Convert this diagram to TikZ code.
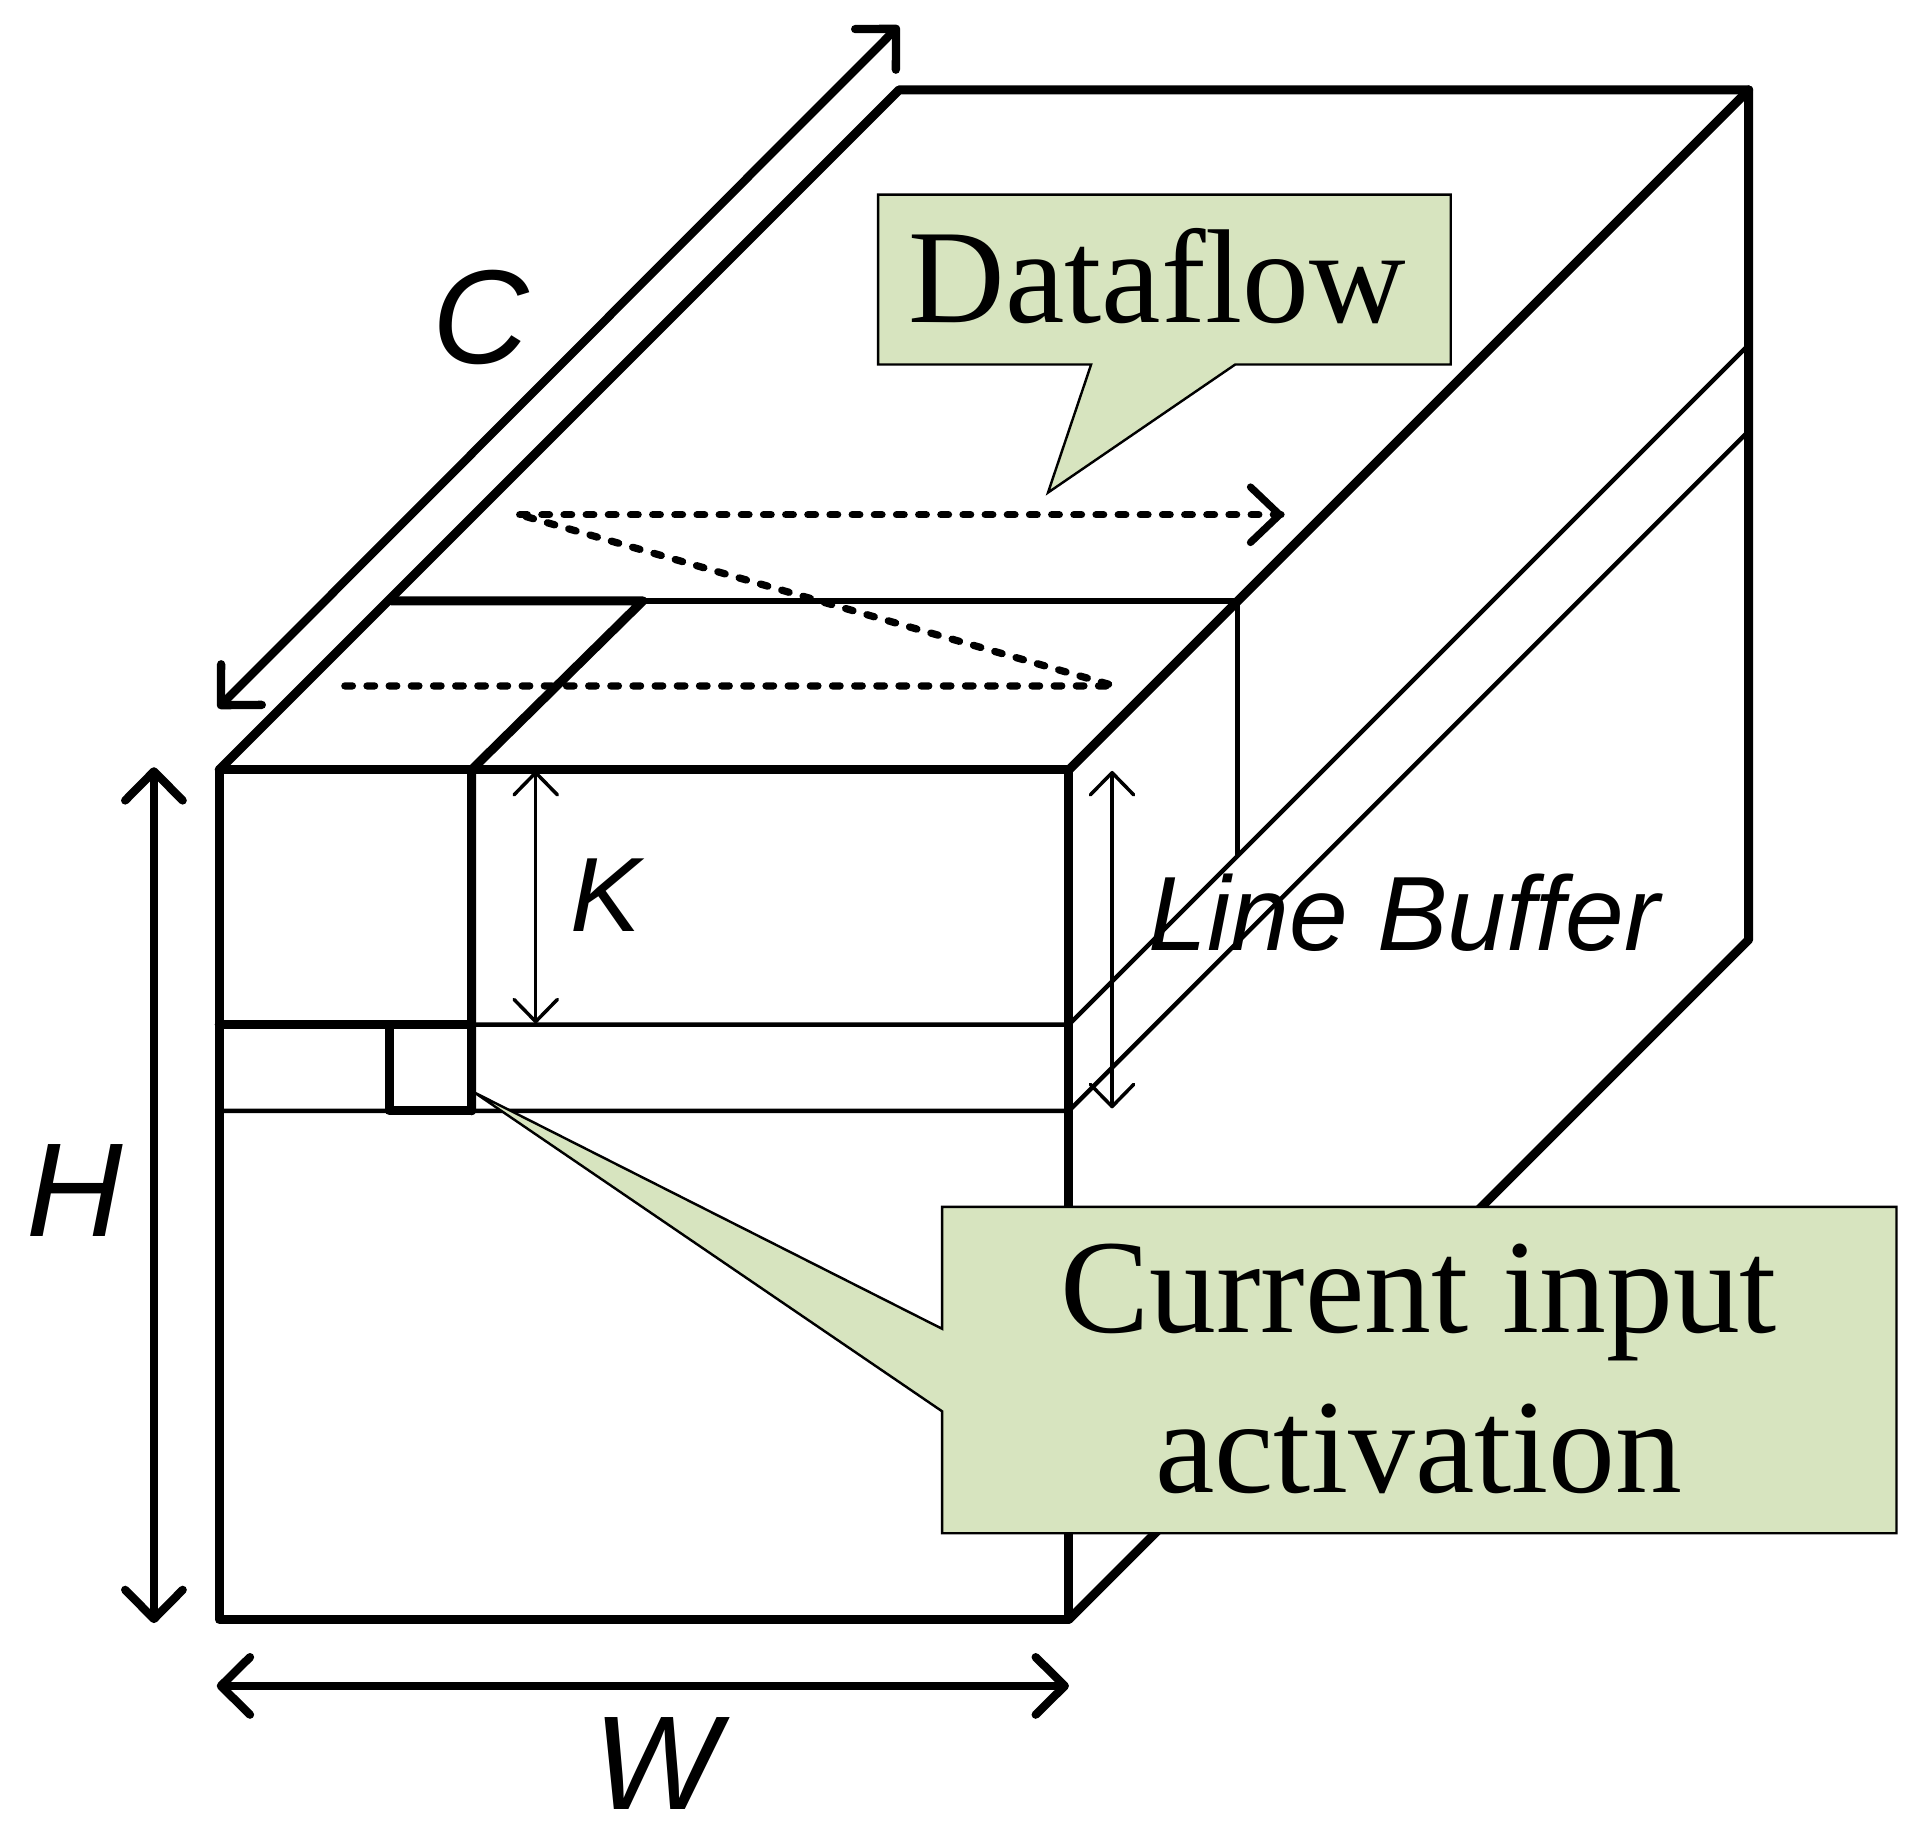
\documentclass[tikz,border=0pt]{standalone}
\usepackage{fontspec}
\setmainfont{Liberation Serif}
\setsansfont{Liberation Sans}
\usetikzlibrary{arrows.meta}
\definecolor{callfill}{RGB}{215,228,191}
\begin{document}
\begin{tikzpicture}[x=0.0125cm,y=-0.0125cm,
  thickline/.style={line width=2.6pt, line cap=round, line join=round},
  midline/.style={line width=1.8pt},
  thinline/.style={line width=1.3pt},
  dotline/.style={line width=2.1pt, line cap=round, dash pattern=on 2.2pt off 4.2pt},
  dimbig/.style={line width=2.4pt, line cap=round, {Straight Barb[length=8.4pt,width=16.6pt,round]}-{Straight Barb[length=8.4pt,width=16.6pt,round]}},
  dimsmall/.style={line width=1.0pt, {Straight Barb[length=6.4pt,width=12.5pt,round]}-{Straight Barb[length=6.4pt,width=12.5pt,round]}},
  biglab/.style={font=\fontsize{38.6}{44}\selectfont\sffamily\itshape, inner sep=0pt, anchor=base},
  smalllab/.style={font=\fontsize{30.5}{36}\selectfont\sffamily\itshape, inner sep=0pt, anchor=base},
  calltext/.style={font=\fontsize{38.6}{46}\selectfont, inner sep=0pt, anchor=base},
  callout/.style={fill=callfill, draw=black, line width=0.7pt, line join=miter}
]
\useasboundingbox (0,0) rectangle (1568,1492);

% cube corners
\coordinate (FTL) at (178,625);
\coordinate (FTR) at (868,625);
\coordinate (FBR) at (868,1315);
\coordinate (FBL) at (178,1315);
\coordinate (BTL) at (730,73);
\coordinate (BTR) at (1420,73);
\coordinate (BBR) at (1420,763);
% slab
\coordinate (STL) at (318,488);
\coordinate (STR) at (522,488);
\coordinate (SFR) at (383,625);
\coordinate (SBR) at (1005,488);
\coordinate (SV) at (1005,695);
% rows
\coordinate (M1L) at (178,832);
\coordinate (M1S) at (383,832);
\coordinate (M1R) at (868,832);
\coordinate (M2L) at (178,902);
\coordinate (M2R) at (868,902);
\coordinate (R1) at (1420,280);
\coordinate (R2) at (1420,350);
\coordinate (SQ1) at (316,832);
\coordinate (SQ2) at (383,902);

% thin lines
\draw[thinline] (M1S) -- (M1R) -- (R1);
\draw[thinline] (M2L) -- (M2R) -- (R2);
\draw[thinline] (SBR) -- (SV);
\draw[midline] (STR) -- (SBR);

% thick cube edges
\draw[thickline] (FTL) rectangle (FBR);
\draw[thickline] (FTL) -- (BTL) -- (BTR) -- (BBR) -- (FBR);
\draw[thickline] (FTR) -- (BTR);
\draw[thickline] (STL) -- (STR) -- (SFR) -- (SQ2);
\draw[thickline] (M1L) -- (M1S);
\draw[thickline] (SQ1) rectangle (SQ2);

% dataflow path
\coordinate (D1) at (422,418);
\coordinate (D2) at (1042,418);
\coordinate (D2a) at (1038,418);
\coordinate (D3) at (905,557);
\coordinate (D4) at (280,557);
\draw[dotline] (D4) -- (D3) -- (D1);
\draw[dotline] (D1) -- (D2);
\draw[line width=2.1pt, line cap=round, -{Straight Barb[length=8.4pt,width=16pt,round]}] (D2a) -- (D2);

% dimension arrows
\coordinate (C1) at (177,575);
\coordinate (C2) at (730,21);
\draw[dimbig] (C1) -- (C2);
\node[biglab] (lblC) at (390,295) {C};
\coordinate (H1) at (125,623);
\coordinate (H2) at (125,1318);
\draw[dimbig] (H1) -- (H2);
\node[biglab] (lblH) at (61,1004) {H};
\coordinate (W1) at (176,1369);
\coordinate (W2) at (868,1369);
\draw[dimbig] (W1) -- (W2);
\node[biglab] (lblW) at (533,1469) {W};
\coordinate (K1) at (435,626);
\coordinate (K2) at (435,831);
\draw[dimsmall] (K1) -- (K2);
\node[smalllab] (lblK) at (492,756) {K};
\coordinate (L1) at (903,626);
\coordinate (L2) at (903,900);
\draw[dimsmall] (L1) -- (L2);

% callouts
\draw[callout] (713,158) -- (1178,158) -- (1178,296) -- (1003,296) -- (851,400) -- (886,296) -- (713,296) -- cycle;
\node[calltext] (dataflow) at (940,262) {Dataflow};
\draw[callout] (765,980) -- (1540,980) -- (1540,1245) -- (765,1245) -- (765,1146) -- (385,887) -- (765,1079) -- cycle;
\node[calltext] (cur1) at (1152,1082) {Current input};
\node[calltext] (cur2) at (1152,1212) {activation};

\node[smalllab, anchor=base west] (lblLB) at (932,772) {Line Buffer};
\end{tikzpicture}
\end{document}
